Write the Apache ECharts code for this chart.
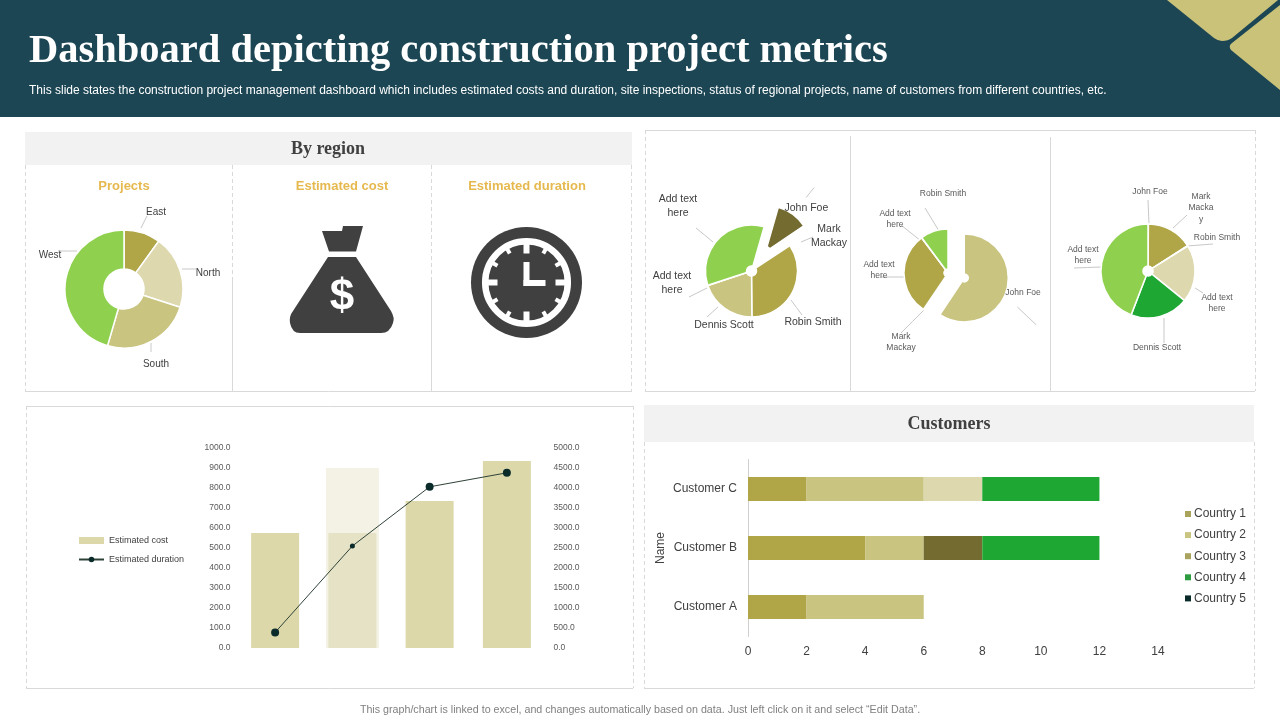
<!DOCTYPE html>
<html><head><meta charset="utf-8">
<style>html,body{margin:0;padding:0;background:#fff}#c{width:1280px;height:720px}</style>
<script src="https://cdn.jsdelivr.net/npm/echarts@6/dist/echarts.min.js"></script>
</head><body><div id="c"></div>
<script>
// ---- data ----
const regionNames = ['East','North','South','West'];
const regionValues = [10,20,24.5,45.5];
const pieANames = ['John Foe','Mark\nMackay','Robin Smith','Dennis Scott','Add text\nhere','Add text\nhere'];
const pieAValues = [40,0.5,123,72,0.5,124];
const pieBNames = ['John Foe','Mark\nMackay','Add text\nhere','Add text\nhere','Robin Smith'];
const pieBValues = [213.5,0.5,109,0.5,36.5];
const pieCNames = ['John Foe','Mark\nMacka\ny','Robin Smith','Add text\nhere','Dennis Scott','Add text\nhere'];
const pieCValues = [0.5,57,0.5,71,72,159];
const barCategories = ['Item 1','Item 2','Item 3','Item 4'];
const estimatedCost = [575,575,735,935];
const estimatedCostGhost = [null,900,null,null];
const estimatedDuration = [390,2550,4030,4380];
const leftTicks = [0,1000,100];
const rightTicks = [0,5000,500];
const customers = ['Customer A','Customer B','Customer C'];
const country1 = [2,4,2];
const country2 = [4,2,4];
const country3 = [0,2,2];
const country4 = [0,4,4];
const country5 = [0,0,0];

// ---- styles ----
const OL='#b0a648',TN='#c9c47f',LT='#ddd8ae',DK='#736b30',LM='#8fd14f',GR='#1ea733',NAVY='#0b2b2b';
const GRAY='#d9d9d9';

function shape(name,d){echarts.graphic.registerShape(name,echarts.graphic.extendPath(d,{}));}
shape('tabA','M1167,0 L1278,0 L1232,38 Q1228,41 1222,41 Q1218,41 1214,38 Z');
shape('tabB','M1280,5 L1232,43 Q1228,46 1231,50 L1280,90 Z');
shape('bagTop','M322,231 L342,231 L343,226 L363,226 L356,251.5 L329,251.5 Z');
shape('bagBody','M328,257 L356,257 L391,311 Q395,318 393,323 Q390,333 381,333 L300,333 Q292,333 290,323 Q289,316 293,311 Z');

function pieSeries(names,values,colors,o){
  return {
    type:'pie',center:o.center,radius:o.radius,startAngle:o.start,clockwise:true,
    selectedMode:o.offset?'single':false,selectedOffset:o.offset||0,
    avoidLabelOverlap:false,minAngle:0,minShowLabelAngle:0,silent:true,animation:false,
    itemStyle:{borderColor:'#fff',borderWidth:o.border==null?1.5:o.border},
    label:{show:true,formatter:'{b}',fontFamily:'Liberation Sans',fontSize:o.font,color:o.textColor,lineHeight:o.font+3,align:'center'},
    labelLine:{show:true,length:8,length2:4,lineStyle:{color:'#c8c8c8',width:1}},
    labelLayout:function(p){
      const q=o.pos[p.dataIndex],l=o.leaders[p.dataIndex];
      return {x:q[0],y:q[1],align:'center',verticalAlign:'middle',
        labelLinePoints:[l[0],[(l[0][0]+l[1][0])/2,(l[0][1]+l[1][1])/2],l[1]]};
    },
    select:{itemStyle:{borderColor:'#fff',borderWidth:1.5}},
    data:names.map((n,i)=>({name:n,value:values[i],selected:i===o.selectedIndex,itemStyle:{color:colors[i]}}))
  };
}
function line(x1,y1,x2,y2,dash,color){
  return {type:'line',shape:{x1,y1,x2,y2},style:{stroke:color||GRAY,lineWidth:1,lineDash:dash?[4,3]:null},silent:true};
}
function rect(x,y,w,h,fill){return {type:'rect',shape:{x,y,width:w,height:h},style:{fill},silent:true};}
function txt(x,y,t,font,fill,align,extra){
  return {type:'text',x,y,style:Object.assign({text:t,font,fill,align:align||'center',verticalAlign:'middle'},extra||{}),silent:true};
}

const g=[];
// header
g.push(rect(0,0,1280,117,'#1c4654'));
g.push({type:'tabA',style:{fill:'#cbc27a'},silent:true});
g.push({type:'tabB',style:{fill:'#cbc27a'},silent:true});
g.push(txt(29,52,'Dashboard depicting construction project metrics','bold 40.5px "Liberation Serif"','#ffffff','left',
  {shadowColor:'rgba(0,0,0,0.6)',shadowBlur:2,shadowOffsetX:1,shadowOffsetY:1}));
g.push(txt(29,91,'This slide states the construction project management dashboard which includes estimated costs and duration, site inspections, status of regional projects, name of customers from different countries, etc.','12px "Liberation Sans"','#ffffff','left'));
// panel: by region
g.push(rect(25,132,607,33,'#f2f2f2'));
g.push(txt(328,149,'By region','bold 18px "Liberation Serif"','#404040'));
g.push(line(25.5,165,25.5,391,true),line(631.5,165,631.5,391,true),line(25,391.5,632,391.5));
g.push(line(232.5,165,232.5,278,true),line(232.5,278,232.5,391),line(431.5,165,431.5,278,true),line(431.5,278,431.5,391));
g.push(txt(124,186,'Projects','bold 13px "Liberation Sans"','#e6b94f'));
g.push(txt(342,186,'Estimated cost','bold 13px "Liberation Sans"','#e6b94f'));
g.push(txt(527,186,'Estimated duration','bold 13px "Liberation Sans"','#e6b94f'));
// panel: pies
g.push(line(645,130.5,1255,130.5),line(645,391.5,1255,391.5),line(645.5,130,645.5,391,true),line(1255.5,130,1255.5,391,true));
g.push(line(850.5,136,850.5,391),line(1050.5,137,1050.5,160,false),line(1050.5,160,1050.5,391));
// panel: combo
g.push(line(26,406.5,633,406.5),line(26,688.5,633,688.5),line(26.5,406,26.5,688,true),line(633.5,406,633.5,688,true));
// panel: customers
g.push(rect(644,405,610,37,'#f2f2f2'));
g.push(txt(949,424,'Customers','bold 18px "Liberation Serif"','#404040'));
g.push(line(644,688.5,1254,688.5),line(644.5,442,644.5,688,true),line(1254.5,442,1254.5,688,true));
// money bag
g.push({type:'bagTop',style:{fill:'#404040'},silent:true});
g.push({type:'bagBody',style:{fill:'#404040'},silent:true});
g.push(txt(342,298,'$','bold 44px "Liberation Sans"','#ffffff'));
// clock
const CX=526.5,CY=282.5;
g.push({type:'circle',shape:{cx:CX,cy:CY,r:55.5},style:{fill:'#404040'},silent:true});
g.push({type:'circle',shape:{cx:CX,cy:CY,r:41.3},style:{fill:'none',stroke:'#ffffff',lineWidth:6.5},silent:true});
for(let i=0;i<12;i++){
  const a=i*Math.PI/6,big=i%3===0,r0=big?29:33.5;
  g.push({type:'line',shape:{x1:CX+Math.sin(a)*r0,y1:CY-Math.cos(a)*r0,x2:CX+Math.sin(a)*40,y2:CY-Math.cos(a)*40},style:{stroke:'#fff',lineWidth:big?6:4},silent:true});
}
g.push(rect(523.5,262,6,24,'#ffffff'),rect(523.5,280,22,6,'#ffffff'));
// footer
g.push(txt(640,710,'This graph/chart is linked to excel, and changes automatically based on data. Just left click on it and select \u201cEdit Data\u201d.','10.7px "Liberation Sans"','#808080'));

const axisTxt={fontFamily:'Liberation Sans',fontSize:8.5,color:'#595959'};
const barTxt={fontFamily:'Liberation Sans',fontSize:12,color:'#404040'};

const option={
  animation:false,backgroundColor:'#fff',
  graphic:{elements:g},
  legend:[
    {show:true,orient:'vertical',left:78,top:536,padding:0,itemGap:10,itemWidth:25,itemHeight:7,
     textStyle:{fontFamily:'Liberation Sans',fontSize:9,color:'#404040'},
     data:[{name:'Estimated cost',icon:'path://M0,0H25V7H0Z'},{name:'Estimated duration'}],selectedMode:false},
    {show:true,orient:'vertical',left:1185,top:508,padding:0,itemGap:9.1,itemWidth:6,itemHeight:6,icon:'rect',
     textStyle:{fontFamily:'Liberation Sans',fontSize:12,color:'#404040',padding:[0,0,0,-2]},
     data:['Country 1','Country 2','Country 3','Country 4','Country 5'],selectedMode:false}
  ],
  grid:[
    {left:236.5,top:448,width:309,height:200,containLabel:false},
    {left:748,top:459.5,width:410,height:177,containLabel:false}
  ],
  xAxis:[
    {gridIndex:0,type:'category',data:barCategories,axisLine:{show:false},axisTick:{show:false},axisLabel:{show:false}},
    {gridIndex:1,type:'value',min:0,max:14,interval:2,splitLine:{show:false},axisLine:{show:false},axisTick:{show:false},axisLabel:Object.assign({margin:9},barTxt)},
    {gridIndex:0,type:'category',position:'top',data:barCategories,axisLine:{show:false},axisTick:{show:false},axisLabel:{show:false}}
  ],
  yAxis:[
    {gridIndex:0,type:'value',min:leftTicks[0],max:leftTicks[1],interval:leftTicks[2],splitLine:{show:false},axisLine:{show:false},axisTick:{show:false},
     axisLabel:Object.assign({margin:6,formatter:v=>v.toFixed(1)},axisTxt)},
    {gridIndex:0,type:'value',position:'right',min:rightTicks[0],max:rightTicks[1],interval:rightTicks[2],splitLine:{show:false},axisLine:{show:false},axisTick:{show:false},
     axisLabel:Object.assign({margin:8,formatter:v=>v.toFixed(1)},axisTxt)},
    {gridIndex:1,type:'category',data:customers,name:'Name',nameLocation:'middle',nameGap:81,nameRotate:90,
     nameTextStyle:barTxt,axisLine:{show:true,lineStyle:{color:'#d0d0d0'}},axisTick:{show:false},axisLabel:Object.assign({margin:11},barTxt)}
  ],
  series:[
    pieSeries(regionNames,regionValues,[OL,LT,TN,LM],{center:[124,289],radius:[20,59],start:90,font:10,textColor:'#404040',
      pos:[[156,212],[208,273],[156,364],[50,255]],
      leaders:[[[141,228],[147,216]],[[182,269],[196,269]],[[151,343],[151,352]],[[77,251],[58,251]]]}),
    pieSeries(pieANames,pieAValues,[DK,OL,OL,TN,LT,LM],{center:[751.5,271],radius:[5,46],start:74,font:10.5,textColor:'#404040',offset:24,selectedIndex:0,
      pos:[[796,195],[829,236],[813,322],[724,325],[672,283],[678,206]],
      leaders:[[[792,217],[800,207]],[[801,242],[813,237]],[[791,300],[802,315]],[[718,307],[707,317]],[[707,288],[689,297]],[[713,242],[696,228]]]}),
    pieSeries(pieBNames,pieBValues,[TN,OL,OL,LM,LM],{center:[948,273],radius:[4,44],start:90,font:8.5,textColor:'#595959',offset:17,selectedIndex:0,
      pos:[[1022,331],[901,342],[879,270],[895,219],[943,194]],
      leaders:[[[1001,302],[1020,320]],[[924,310],[901,333]],[[906,277],[881,277]],[[921,241],[901,225]],[[939,231],[925,208]]]}),
    pieSeries(pieCNames,pieCValues,[OL,OL,LT,LT,GR,LM],{center:[1148,271],radius:[5,47],start:90,font:8.5,textColor:'#595959',
      pos:[[1150,192],[1201,208],[1217,238],[1217,303],[1157,348],[1083,255]],
      leaders:[[[1149,224],[1148,200]],[[1173,228],[1187,215]],[[1187,246],[1213,244]],[[1195,288],[1203,293]],[[1164,318],[1164,343]],[[1101,267],[1074,268]]]}),
    {name:'ghost',type:'bar',xAxisIndex:2,yAxisIndex:0,data:estimatedCostGhost,barWidth:53,itemStyle:{color:'#f3f2e4'},silent:true},
    {name:'Estimated cost',type:'bar',xAxisIndex:0,yAxisIndex:0,barWidth:48,itemStyle:{color:'#dcd8aa'},silent:true,
     data:estimatedCost.map((v,i)=>i===1?{value:v,itemStyle:{color:'#e5e2c5'}}:v)},
    {name:'Estimated duration',type:'line',xAxisIndex:0,yAxisIndex:1,symbol:'circle',symbolSize:8,silent:true,
     data:estimatedDuration.map((v,i)=>i===1?{value:v,symbolSize:5}:v),
     lineStyle:{color:'#2f4238',width:1},itemStyle:{color:NAVY}},
    stacked('Country 1',country1,'#a9a35c',[OL,OL,OL]),
    stacked('Country 2',country2,TN,[TN,TN,TN]),
    stacked('Country 3',country3,'#a8a45f',[OL,DK,LT]),
    stacked('Country 4',country4,'#2d9b3f',[GR,GR,GR]),
    stacked('Country 5',country5,NAVY,[NAVY,NAVY,NAVY])
  ]
};
function stacked(name,values,color,cols){
  return {name,type:'bar',xAxisIndex:1,yAxisIndex:2,stack:'c',barWidth:24,silent:true,itemStyle:{color},
    data:values.map((v,i)=>({value:v,itemStyle:{color:cols[i]}}))};
}
echarts.init(document.getElementById('c'),null,{renderer:'canvas'}).setOption(option);
</script></body></html>
